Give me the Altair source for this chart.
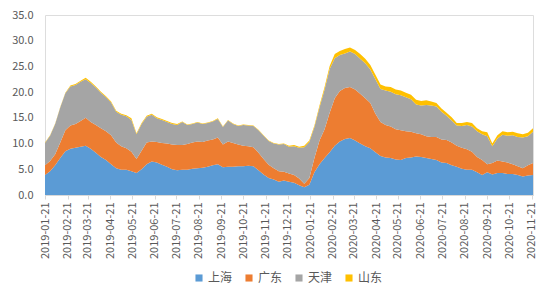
import altair as alt
import pandas as pd

# Weekly observations, 2019-01-21 to 2020-11-23
dates = pd.date_range("2019-01-21", periods=97, freq="7D").strftime("%Y-%m-%d").tolist()

series_names = ["上海", "广东", "天津", "山东"]
series_colors = ["#5B9BD5", "#ED7D31", "#A5A5A5", "#FFC000"]

shanghai = [
    3.9, 4.6, 5.8, 7.2, 8.5, 9.0, 9.2, 9.4, 9.6, 9.0,
    8.2, 7.4, 6.8, 6.0, 5.2, 4.9, 4.9, 4.6, 4.3, 5.0,
    6.0, 6.5, 6.3, 5.9, 5.5, 5.0, 4.8, 4.9, 4.9, 5.1,
    5.2, 5.3, 5.5, 5.8, 6.0, 5.4, 5.5, 5.5, 5.6, 5.6,
    5.7, 5.6, 4.8, 4.0, 3.3, 3.0, 2.6, 2.8, 2.6, 2.4,
    1.9, 1.5, 2.0, 4.4, 6.0, 7.2, 8.3, 9.6, 10.4, 10.9,
    11.1, 10.6, 10.0, 9.5, 9.1, 8.3, 7.6, 7.3, 7.2, 6.9,
    6.8, 7.2, 7.3, 7.5, 7.4, 7.2, 7.0, 6.8, 6.3, 6.2,
    5.8, 5.5, 5.1, 4.9, 4.9, 4.4, 3.9, 4.4, 4.0, 4.3,
    4.3, 4.1, 4.1, 3.9, 3.6, 3.8, 3.9,
]
guangdong = [
    1.9, 2.0, 2.1, 3.0, 4.1, 4.5, 4.6, 5.0, 5.4, 5.2,
    5.4, 5.6, 5.6, 5.6, 5.0, 4.6, 4.2, 3.8, 2.7, 3.6,
    4.2, 3.9, 4.0, 4.2, 4.5, 4.8, 4.9, 4.8, 5.0, 5.1,
    5.2, 5.0, 5.1, 5.0, 5.2, 4.4, 4.9, 4.6, 4.2, 4.0,
    3.8, 3.7, 3.4, 3.0, 2.6, 2.2, 2.0, 1.7, 1.6, 1.5,
    1.3, 0.7, 1.3, 2.8, 4.6, 5.6, 7.7, 9.2, 9.8, 9.9,
    9.9, 9.9, 9.7, 9.3, 8.8, 7.5, 6.6, 6.3, 6.1, 5.9,
    5.8, 5.2, 5.0, 4.5, 4.4, 4.2, 4.3, 4.5, 4.5, 4.5,
    4.4, 4.1, 4.1, 4.0, 3.5, 3.0, 2.9, 1.6, 2.2, 2.4,
    2.2, 2.2, 1.9, 1.7, 1.6, 2.0, 2.3,
]
tianjin = [
    4.3, 4.9, 5.9, 6.8, 7.2, 7.6, 7.6, 7.6, 7.5, 7.6,
    7.3, 6.9, 6.6, 6.4, 6.0, 6.1, 6.2, 6.2, 4.8, 5.2,
    5.0, 5.2, 4.6, 4.5, 4.2, 4.0, 3.9, 4.5, 3.7, 3.6,
    3.7, 3.5, 3.4, 3.5, 3.6, 3.4, 4.1, 3.7, 3.6, 4.0,
    4.0, 4.1, 4.4, 4.5, 4.6, 4.8, 5.2, 5.4, 5.2, 5.6,
    6.0, 7.1, 7.0, 6.0, 6.4, 7.7, 8.5, 7.8, 7.0, 6.7,
    6.9, 6.9, 6.8, 6.8, 6.5, 6.7, 6.4, 6.7, 6.8, 6.8,
    6.8, 6.6, 6.3, 5.6, 5.6, 6.1, 6.1, 5.9, 5.4, 4.7,
    4.3, 3.9, 4.2, 4.7, 4.9, 5.0, 5.0, 5.4, 3.3, 4.3,
    5.2, 5.2, 5.6, 5.7, 6.0, 5.6, 6.1,
]
shandong = [
    0.1, 0.1, 0.1, 0.1, 0.1, 0.2, 0.2, 0.2, 0.3, 0.2,
    0.2, 0.2, 0.2, 0.2, 0.2, 0.2, 0.2, 0.3, 0.2, 0.2,
    0.2, 0.2, 0.2, 0.2, 0.2, 0.2, 0.2, 0.1, 0.1, 0.1,
    0.1, 0.1, 0.1, 0.1, 0.1, 0.1, 0.1, 0.1, 0.1, 0.1,
    0.1, 0.1, 0.1, 0.1, 0.1, 0.1, 0.1, 0.1, 0.2, 0.2,
    0.2, 0.3, 0.3, 0.3, 0.4, 0.5, 0.6, 0.8, 0.8, 0.9,
    0.8, 0.8, 0.9, 0.9, 0.9, 0.9, 0.9, 0.8, 0.9, 0.9,
    0.9, 0.9, 0.9, 0.9, 0.9, 0.9, 0.8, 0.7, 0.6, 0.6,
    0.6, 0.5, 0.6, 0.6, 0.7, 0.6, 0.6, 0.8, 0.5, 0.6,
    0.7, 0.7, 0.7, 0.7, 0.6, 0.7, 0.7,
]

# Monthly tick marks on the 21st
tick_months = [(2019, m) for m in range(1, 13)] + [(2020, m) for m in range(1, 12)]

rows = []
for idx, (name, vals) in enumerate(zip(series_names, [shanghai, guangdong, tianjin, shandong])):
    for d, v in zip(dates, vals):
        rows.append({"date": d, "series": name, "value": v, "order": idx})
df = pd.DataFrame(rows)

text_color = "#595959"
font = "Noto Sans CJK SC"

chart = (
    alt.Chart(df)
    .mark_area(interpolate="linear")
    .encode(
        x=alt.X(
            "date:T",
            title=None,
            scale=alt.Scale(
                type="utc",
                domain=[
                    alt.DateTime(year=2019, month=1, date=21, utc=True),
                    alt.DateTime(year=2020, month=11, date=23, utc=True),
                ],
            ),
            axis=alt.Axis(
                values=[alt.DateTime(year=y, month=m, date=21, utc=True) for y, m in tick_months],
                format="%Y-%m-%d",
                labelAngle=270,
                labelFont=font,
                labelFontSize=11,
                labelColor=text_color,
                labelPadding=3,
                domainColor="#D9D9D9",
                tickColor="#D9D9D9",
                tickSize=4,
                grid=False,
                labelOverlap=False,
            ),
        ),
        y=alt.Y(
            "value:Q",
            stack="zero",
            title=None,
            scale=alt.Scale(domain=[0, 35], nice=False),
            axis=alt.Axis(
                values=[0, 5, 10, 15, 20, 25, 30, 35],
                format=".1f",
                labelFont=font,
                labelFontSize=11,
                labelColor=text_color,
                labelPadding=12,
                ticks=False,
                domain=False,
                grid=False,
            ),
        ),
        color=alt.Color(
            "series:N",
            sort=series_names,
            scale=alt.Scale(domain=series_names, range=series_colors),
            legend=alt.Legend(
                title=None,
                orient="none",
                direction="horizontal",
                legendX=148,
                legendY=257,
                symbolType="square",
                symbolSize=50,
                symbolStrokeWidth=0,
                labelFont=font,
                labelFontSize=12,
                labelColor=text_color,
                columnPadding=10,
                labelOffset=3,
            ),
        ),
        order=alt.Order("order:Q", sort="ascending"),
    )
    .properties(
        width=488,
        height=180,
        autosize=alt.AutoSizeParams(type="none"),
        padding={"left": 45, "top": 15, "right": 17, "bottom": 105},
    )
    .configure_view(stroke=None)
    .configure(background="white")
)

chart.save("out.html", embed_options={"renderer": "svg", "actions": False})
